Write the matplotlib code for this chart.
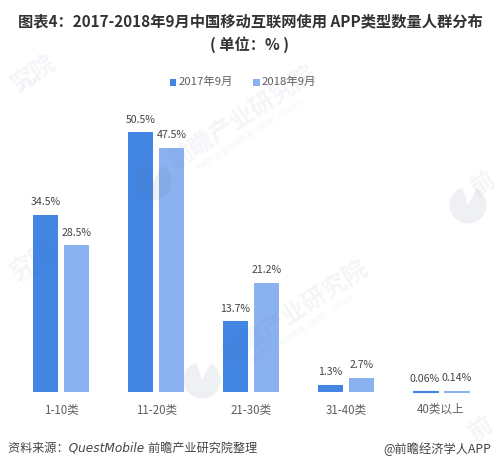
import matplotlib
matplotlib.use('Agg')
import matplotlib.pyplot as plt
from matplotlib.patches import Wedge, Rectangle

plt.rcParams['font.family'] = ['Noto Sans CJK SC', 'DejaVu Sans']

categories = ['1-10类', '11-20类', '21-30类', '31-40类', '40类以上']
series_names = ['2017年9月', '2018年9月']
values_2017 = [34.5, 50.5, 13.7, 1.3, 0.06]
values_2018 = [28.5, 47.5, 21.2, 2.7, 0.14]
labels_2017 = ['34.5%', '50.5%', '13.7%', '1.3%', '0.06%']
labels_2018 = ['28.5%', '47.5%', '21.2%', '2.7%', '0.14%']
title = '图表4：2017-2018年9月中国移动互联网使用 APP类型数量人群分布\n( 单位：% )'
source = '资料来源：QuestMobile 前瞻产业研究院整理'
credit = '@前瞻经济学人APP'

W, H = 500, 467
fig = plt.figure(figsize=(W/100, H/100), dpi=100)

C1, C2 = '#4285e3', '#8ab2f0'
left, right, top, bottom = 14, 488, 132, 391.5
scale = 5.13
ax = fig.add_axes([left/W, 1-bottom/H, (right-left)/W, (bottom-top)/H])
ax.set_xlim(-0.5, 4.5)
ax.set_ylim(0, (bottom-top)/scale)
xs = list(range(len(categories)))
w, off = 0.264, 0.164
b1 = ax.bar([x-off for x in xs], values_2017, w, color=C1)
b2 = ax.bar([x+off for x in xs], values_2018, w, color=C2)
for bars, labs, col in ((b1, labels_2017, C1), (b2, labels_2018, C2)):
    for r, s in zip(bars, labs):
        if r.get_height() < 1:
            r.set_edgecolor(col)
            r.set_linewidth(0.8)
            r.set_clip_on(False)
        ax.annotate(s, (r.get_x()+r.get_width()/2, r.get_height()), xytext=(0, 5.5),
                    textcoords='offset points', ha='center', va='bottom',
                    fontsize=7.6, color='#444444', annotation_clip=False)
for s in ax.spines.values():
    s.set_visible(False)
ax.set_yticks([])
ax.set_xticks(xs)
ax.set_xticklabels(categories, fontsize=8.3, color='#5f5f5f')
ax.tick_params(axis='x', length=0, pad=8)

# overlay in pixel coordinates: watermarks, legend and notes
bg = fig.add_axes([0, 0, 1, 1], zorder=5)
bg.set_xlim(0, W); bg.set_ylim(H, 0); bg.axis('off'); bg.patch.set_alpha(0)

WM = '#5f6f98'
SUB = '中国产业咨询领导者（股票：839599）'
for (x, y) in [(243, 117), (295, 312)]:
    bg.text(x, y, '前瞻产业研究院', rotation=33, fontsize=17.5, fontweight='bold', color=WM,
            alpha=0.065, ha='center', va='center', rotation_mode='anchor')
    bg.text(x+9, y+16, SUB, rotation=33, fontsize=5.5, color=WM, alpha=0.07,
            ha='center', va='center', rotation_mode='anchor')
for (x, y, s, sub, sx, sy) in [(33, 74, '究院', '：839599）', 30, 83),
                               (32, 262, '究院', '：839599）', 33, 276),
                               (483, 184, '前', None, 0, 0),
                               (481, 429, '前', None, 0, 0)]:
    bg.text(x, y, s, rotation=33, fontsize=17.5, fontweight='bold', color=WM, alpha=0.065,
            ha='center', va='center', rotation_mode='anchor')
    if sub:
        bg.text(sx, sy, sub, rotation=33, fontsize=5.5, color=WM, alpha=0.07,
                ha='center', va='center', rotation_mode='anchor')
for (x, y) in [(468, 205), (153, 182), (202, 380)]:
    bg.add_patch(Wedge((x, y), 18.5, 298, 252, color=WM, alpha=0.1, lw=0))

fig.text(250/W, 1-33/H, title, ha='center', va='center', fontsize=11, fontweight='bold',
         color='#333333', linespacing=1.5)

bg.add_patch(Rectangle((170, 79), 6, 6.5, color=C1, lw=0))
bg.add_patch(Rectangle((253, 79), 6.5, 6.5, color=C2, lw=0))
bg.text(179, 82, series_names[0], fontsize=8.2, color='#5f5f5f', va='center')
bg.text(262, 82, series_names[1], fontsize=8.2, color='#5f5f5f', va='center')

bg.text(8, 449, source, fontsize=8.7, color='#444444', va='center', style='italic',
        family=['DejaVu Sans', 'Noto Sans CJK SC'])
bg.text(491, 449, credit, fontsize=8.8, color='#444444', va='center', ha='right')

fig.savefig('out.png', dpi=100)
